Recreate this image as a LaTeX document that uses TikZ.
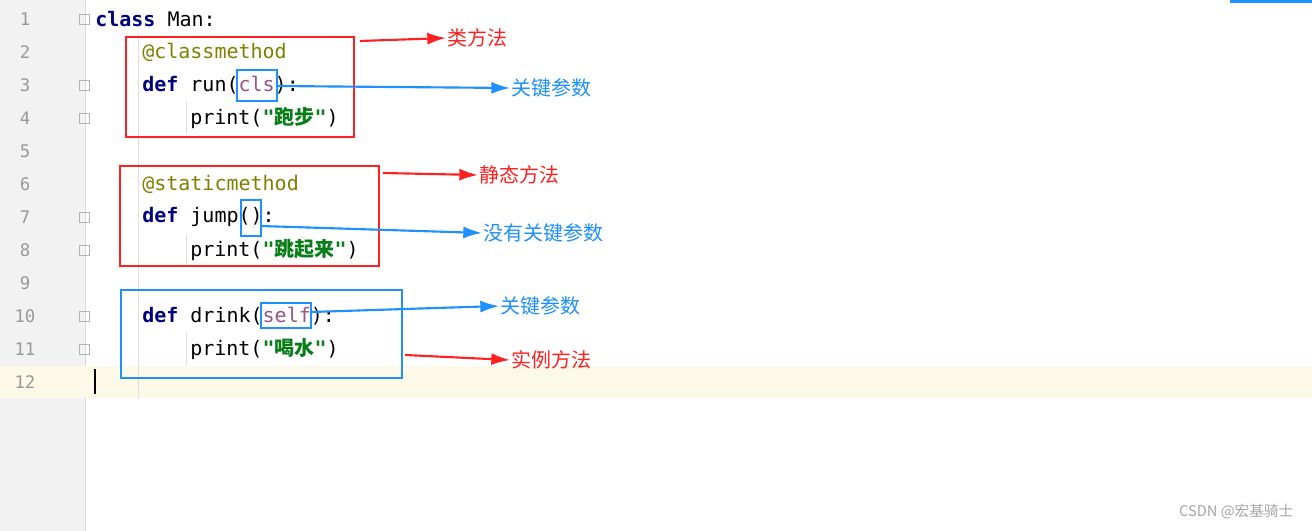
\documentclass[tikz,border=0pt]{standalone}
\usepackage{fontspec}
\setmonofont{DejaVu Sans Mono}
\newfontfamily\cjk{Noto Sans CJK SC}
\usetikzlibrary{arrows.meta}
\definecolor{kwblue}{HTML}{000080}
\definecolor{deco}{HTML}{808000}
\definecolor{strgreen}{HTML}{067D17}
\definecolor{argpurple}{HTML}{94558D}
\definecolor{boxred}{HTML}{FF2020}
\definecolor{boxblue}{HTML}{1E90FF}
\definecolor{gutter}{HTML}{F2F2F2}
\definecolor{curline}{HTML}{FCF9E8}
\tikzset{
  code/.style = {anchor=west, inner sep=0pt, font=\ttfamily\fontsize{15}{18}\selectfont},
  lineno/.style = {anchor=center, text=gray!80, font=\ttfamily\fontsize{13}{16}\selectfont},
  note/.style = {anchor=west, inner sep=1pt, font=\cjk\fontsize{15}{18}\selectfont},
  redbox/.style = {draw=boxred, line width=1.5pt},
  bluebox/.style = {draw=boxblue, line width=1.5pt},
  redarrow/.style = {draw=boxred, line width=1.6pt, -{Latex[length=14,width=9]}},
  bluearrow/.style = {draw=boxblue, line width=1.6pt, -{Latex[length=14,width=9]}},
}
\newcommand{\kw}[1]{\textcolor{kwblue}{\bfseries #1}}
\newcommand{\str}[1]{\textcolor{strgreen}{\bfseries #1}}
\begin{document}
\begin{tikzpicture}[x=0.75pt,y=-0.75pt]
  \useasboundingbox (0,0) rectangle (1312,531);
  % editor background
  \fill[white] (0,0) rectangle (1312,531);
  \fill[gutter] (0,0) rectangle (85,531);
  \draw[gray!30] (85,0) -- (85,531);
  \fill[curline] (0,366) rectangle (1312,398);
  \fill[boxblue] (1230,0) rectangle (1312,3);
  \draw[gray!25] (138,35) -- (138,398);
  \draw[gray!25] (186,102) -- (186,134);
  \draw[gray!25] (186,234) -- (186,266);
  \draw[gray!25] (186,333) -- (186,365);
  % line numbers
  \foreach \n in {1,...,12}
    \node[lineno] (n\n) at (25,{19+33*(\n-1)}) {\n};
  % fold markers
  \foreach \y in {19,85,118,217,250,316,349}
    \draw[gray!60] (79,\y-5) rectangle (89,\y+5);
  % code lines
  \node[code] (c1) at (95,19) {\kw{class} Man:};
  \node[code] (c2) at (142,52) {\textcolor{deco}{@classmethod}};
  \node[code] (c3) at (142,85) {\kw{def} run(\textcolor{argpurple}{cls}):};
  \node[code] (c4) at (190,118) {print(\str{"{\cjk 跑步}"})};
  \node[code] (c6) at (142,184) {\textcolor{deco}{@staticmethod}};
  \node[code] (c7) at (142,217) {\kw{def} jump():};
  \node[code] (c8) at (190,250) {print(\str{"{\cjk 跳起来}"})};
  \node[code] (c10) at (142,316) {\kw{def} drink(\textcolor{argpurple}{self}):};
  \node[code] (c11) at (190,349) {print(\str{"{\cjk 喝水}"})};
  \draw[line width=1.2pt] (95,369) -- (95,394);
  % boxes
  \draw[redbox] (126,37) rectangle (354,137);
  \draw[redbox] (120,166) rectangle (379,266);
  \draw[bluebox] (121,290) rectangle (402,378);
  \draw[bluebox] (237,70) rectangle (277,101);
  \draw[bluebox] (241,200) rectangle (261,236);
  \draw[bluebox] (261,303) rectangle (311,328);
  % notes
  \node[note, text=boxred] (t1) at (446,38) {类方法};
  \node[note, text=boxblue] (t2) at (510,88) {关键参数};
  \node[note, text=boxred] (t3) at (478,175) {静态方法};
  \node[note, text=boxblue] (t4) at (482,233) {没有关键参数};
  \node[note, text=boxblue] (t5) at (499,306) {关键参数};
  \node[note, text=boxred] (t6) at (510,360) {实例方法};
  \coordinate (a1) at (360,41);
  \coordinate (a2) at (277,86);
  \coordinate (a3) at (383,173);
  \coordinate (a4) at (261,226);
  \coordinate (a5) at (311,312);
  \coordinate (a6) at (405,355);
  \draw[redarrow] (a1) -- (t1.west);
  \draw[bluearrow] (a2) -- (t2.west);
  \draw[redarrow] (a3) -- (t3.west);
  \draw[bluearrow] (a4) -- (t4.west);
  \draw[bluearrow] (a5) -- (t5.west);
  \draw[redarrow] (a6) -- (t6.west);
  % watermark
  \node[anchor=east, text=gray!70, font=\cjk\fontsize{11}{13}\selectfont] (wm) at (1298,512) {CSDN @宏基骑士};
\end{tikzpicture}
\end{document}
